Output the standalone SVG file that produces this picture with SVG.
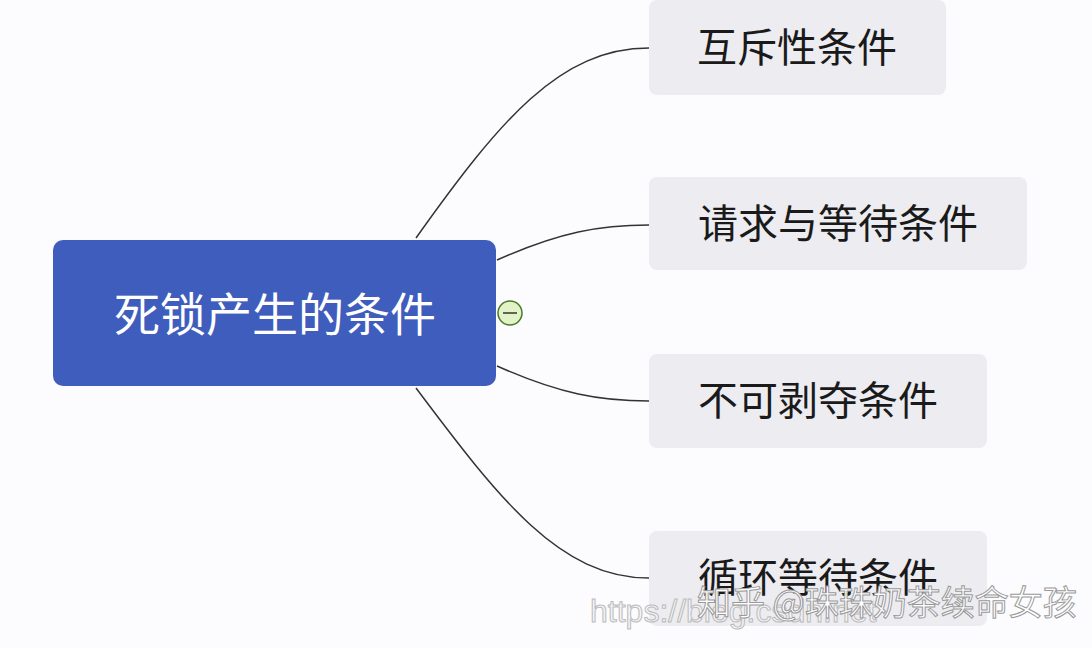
<svg xmlns="http://www.w3.org/2000/svg" width="1092" height="648" viewBox="0 0 1092 648">
<style>
.c{fill:#ececf1;}
.t{font-family:"Noto Sans CJK SC",sans-serif;font-size:40px;fill:#1a1a1a;}
.e{fill:none;stroke:#333;stroke-width:1.5;}
.w{font-family:"Noto Sans CJK SC",sans-serif;font-size:34px;fill:#fff;stroke:#999;stroke-width:1;}
</style>
<rect width="1092" height="648" fill="#fcfcfe"/>
<g id="connectors">
<path class="e" d="M416,238 C500,120 560,48 649,48"/>
<path class="e" d="M497,260 C560,232 600,225 649,225"/>
<path class="e" d="M497,366 C560,394 600,401 649,401"/>
<path class="e" d="M416,388 C500,500 560,578 649,578"/>
</g>
<g id="root">
<rect x="53" y="240" width="443" height="146" rx="10" fill="#3f5dbd"/>
<text x="275" y="331" text-anchor="middle" font-family="Noto Sans CJK SC,sans-serif" font-size="46" fill="#fff">死锁产生的条件</text>
<circle cx="510" cy="313" r="12" fill="#e3f3c8" stroke="#4a7a2a" stroke-width="1.5"/>
<line x1="503" y1="313" x2="517" y2="313" stroke="#333" stroke-width="1.5"/>
</g>
<g id="n1"><rect class="c" x="649" y="0" width="297" height="95" rx="8"/><text class="t" x="797" y="62" text-anchor="middle">互斥性条件</text></g>
<g id="n2"><rect class="c" x="649" y="177" width="378" height="93" rx="8"/><text class="t" x="838" y="238" text-anchor="middle">请求与等待条件</text></g>
<g id="n3"><rect class="c" x="649" y="354" width="338" height="94" rx="8"/><text class="t" x="818" y="415" text-anchor="middle">不可剥夺条件</text></g>
<g id="n4"><rect class="c" x="649" y="531" width="338" height="95" rx="8"/><text class="t" x="818" y="592" text-anchor="middle">循环等待条件</text></g>
<g id="watermark">
<text x="590" y="622" font-family="Liberation Sans,sans-serif" font-size="32" fill="#f4f4f4" stroke="#bbb" stroke-width="1">https://blog.csdn.net</text>
<text class="w" x="697" y="615">知乎 @珠珠奶茶续命女孩</text>
</g>
</svg>
